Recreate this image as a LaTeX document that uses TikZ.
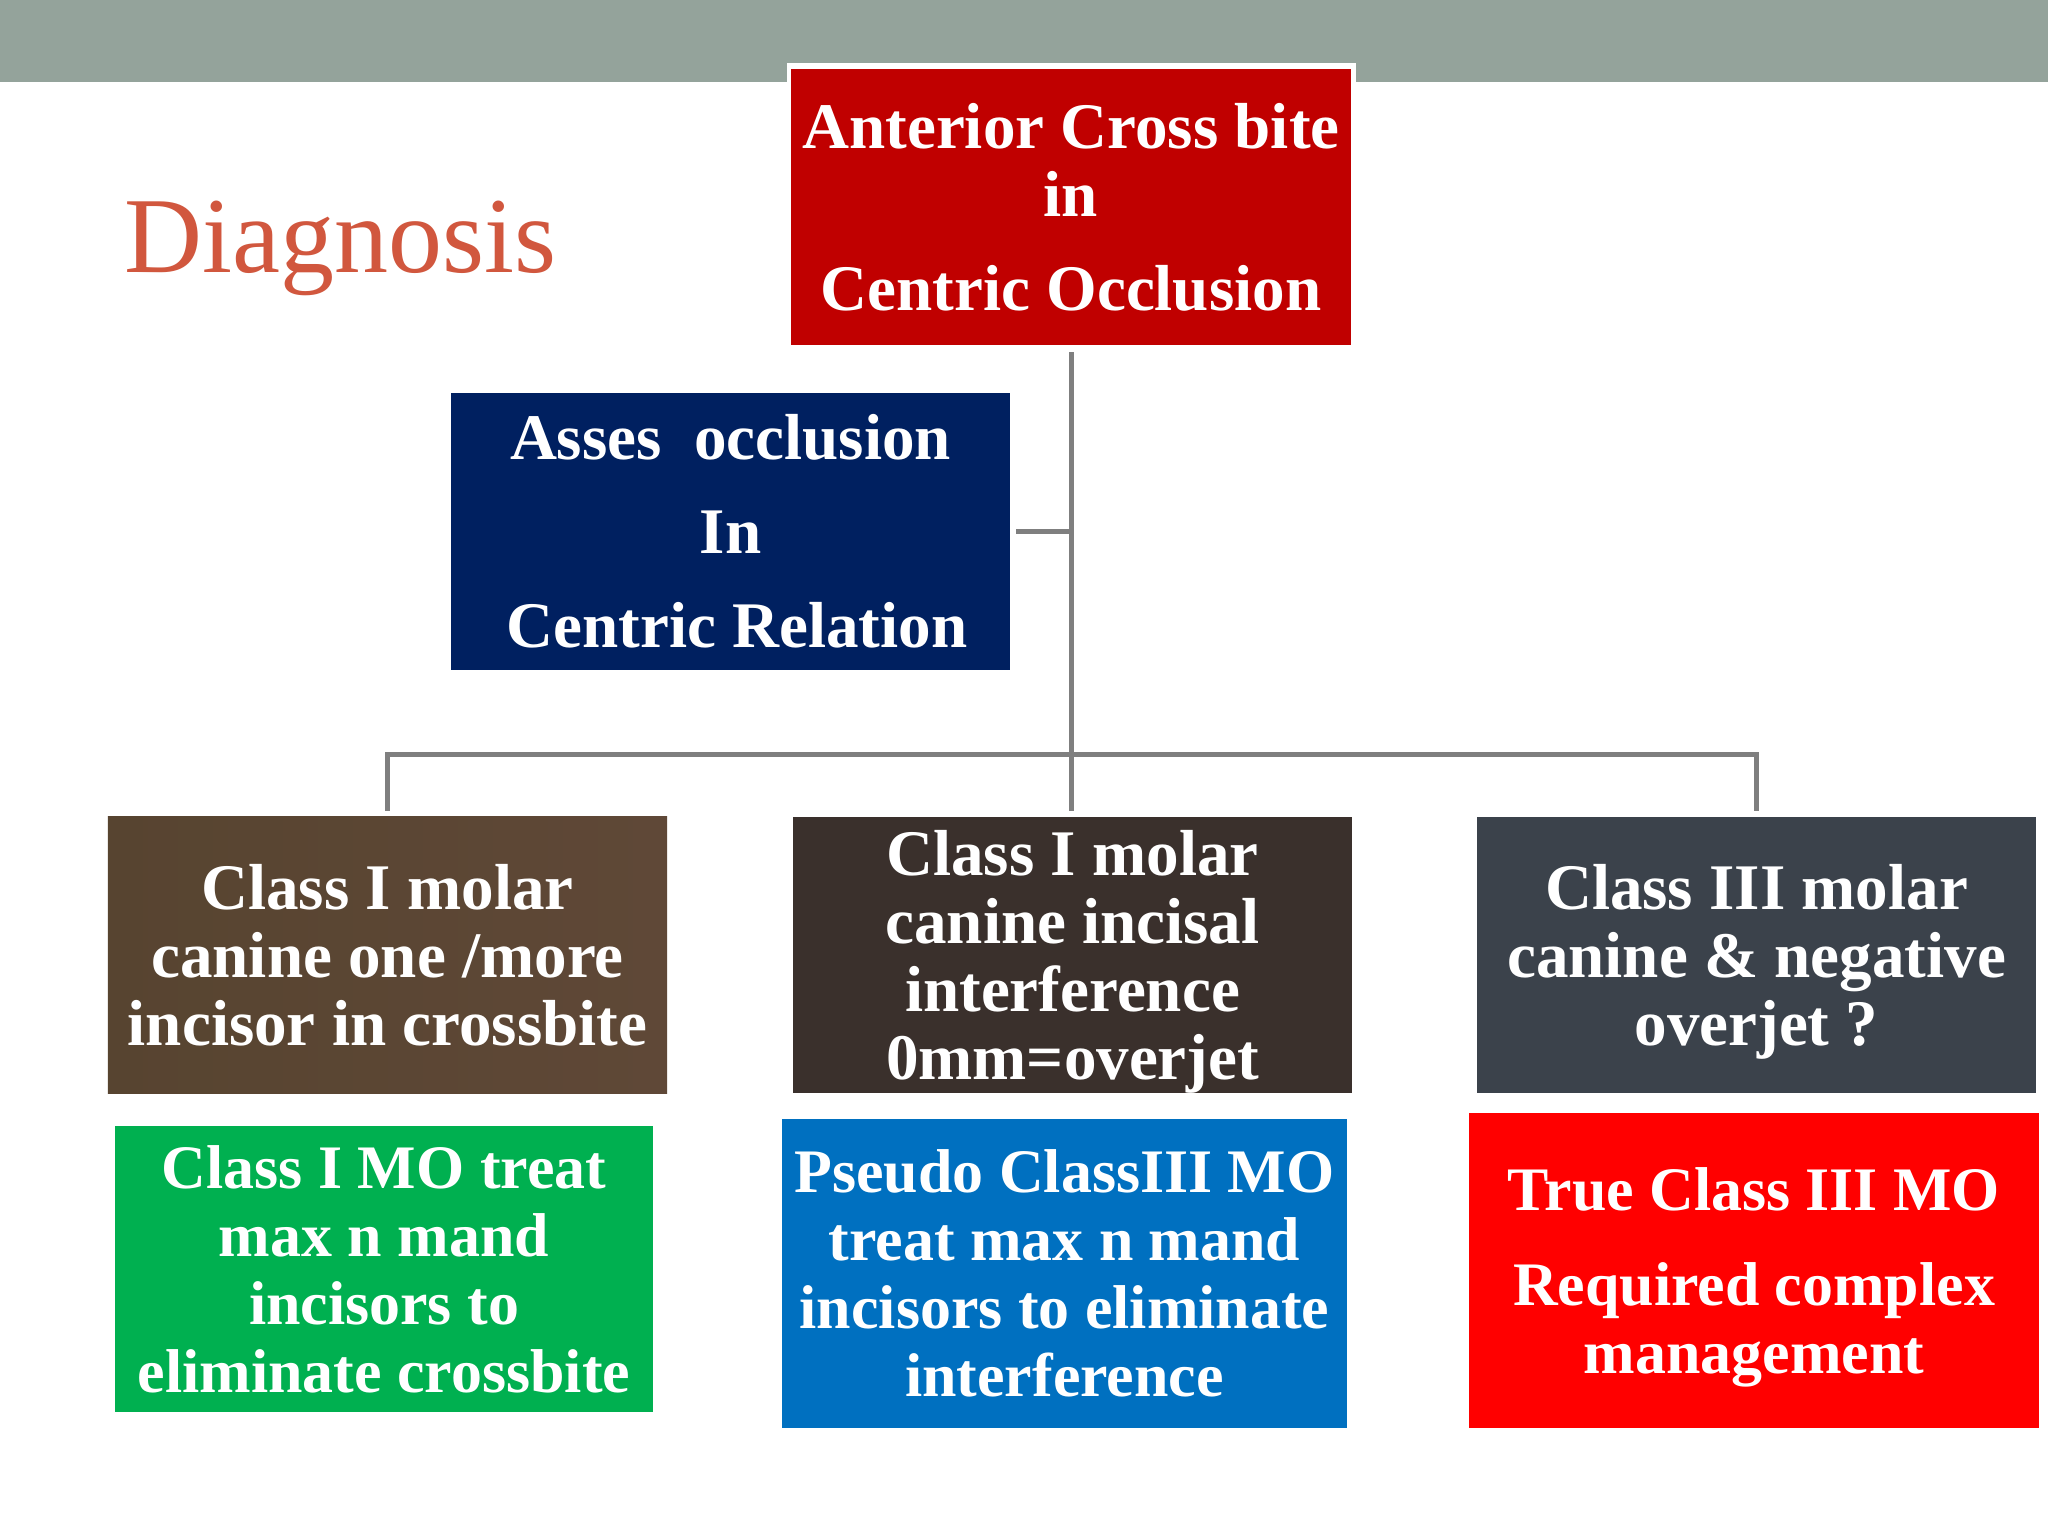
\documentclass[tikz,border=0pt]{standalone}
\usepackage{fontspec}
\setmainfont{Liberation Serif}
\definecolor{band}{HTML}{94A39B}
\definecolor{diag}{HTML}{D1573E}
\definecolor{topred}{HTML}{C00000}
\definecolor{navy}{HTML}{002060}
\definecolor{brownL}{HTML}{574430}
\definecolor{brownR}{HTML}{5F4837}
\definecolor{darkbox}{HTML}{3A302C}
\definecolor{slate}{HTML}{3B424B}
\definecolor{greenbox}{HTML}{00B050}
\definecolor{bluebox}{HTML}{0070C0}
\definecolor{redbox}{HTML}{FF0000}
\definecolor{conngray}{HTML}{7F7F7F}
\tikzset{
  box/.style={rectangle, inner sep=0pt, outer sep=0pt, text=white, align=center,
    font=\bfseries\fontsize{18.5pt}{19.35pt}\selectfont},
  lowbox/.style={box, font=\bfseries\fontsize{17.6pt}{19.35pt}\selectfont},
  conn/.style={draw=conngray, line width=0.05cm, line cap=butt, line join=miter},
}
\begin{document}
\begin{tikzpicture}[x=0.01cm,y=-0.01cm]
\useasboundingbox (0,0) rectangle (2048,1536);
\fill[white] (0,0) rectangle (2048,1536);
\fill[band] (0,0) rectangle (2048,82);
\fill[white] (787,63) rectangle (1356,350);

\node[anchor=base west, text=diag, inner sep=0pt, font=\fontsize{30.7pt}{36pt}\selectfont] (title) at (124,272) {Diagnosis};

\node[box, fill=topred, minimum width=5.6cm, minimum height=2.76cm] (top) at (1071,207)
  {Anterior Cross bite\\ in\\[7.4pt] Centric Occlusion};
\node[box, fill=navy, minimum width=5.59cm, minimum height=2.77cm] (asses) at (730.5,531.5)
  {Asses\ \ occlusion\\[7.4pt] In\\[7.4pt] \hspace*{0.13cm}Centric Relation};

\node[box, left color=brownL, right color=brownR, minimum width=5.59cm, minimum height=2.76cm] (c1) at (387.5,955)
  {Class I molar\\ canine one /more\\ incisor in crossbite};
\node[box, fill=darkbox, minimum width=5.59cm, minimum height=2.76cm, text depth=0pt] (c2) at (1072.5,955)
  {Class I molar\\ canine incisal\\ interference\\ 0mm=overjet};
\node[box, fill=slate, minimum width=5.59cm, minimum height=2.76cm, text depth=0pt] (c3) at (1756.5,955)
  {Class III molar\\ canine \& negative\\ overjet ?};

\node[lowbox, fill=greenbox, minimum width=5.38cm, minimum height=2.86cm] (t1) at (384,1269)
  {Class I MO treat\\ max n mand\\ incisors to\\ eliminate crossbite};
\node[lowbox, fill=bluebox, minimum width=5.65cm, minimum height=3.09cm] (t2) at (1064.5,1273.5)
  {Pseudo ClassIII MO\\ treat max n mand\\ incisors to eliminate\\ interference};
\node[lowbox, fill=redbox, minimum width=5.70cm, minimum height=3.15cm, text depth=0pt] (t3) at (1754,1270.5)
  {True Class III MO\\[7.4pt] Required complex\\ management};

\coordinate (busL) at (c1.north |- 0,754);
\coordinate (busR) at (c3.north |- 0,754);
\draw[conn, shorten <=0.07cm, shorten >=0.06cm] (top.south) -- (top.south |- c2.north);
\draw[conn, shorten <=0.06cm] (asses.east) -- (asses.east -| top.south);
\draw[conn, shorten <=0.06cm, shorten >=0.06cm] (c1.north) -- (busL) -- (busR) -- (c3.north);
\end{tikzpicture}
\end{document}
